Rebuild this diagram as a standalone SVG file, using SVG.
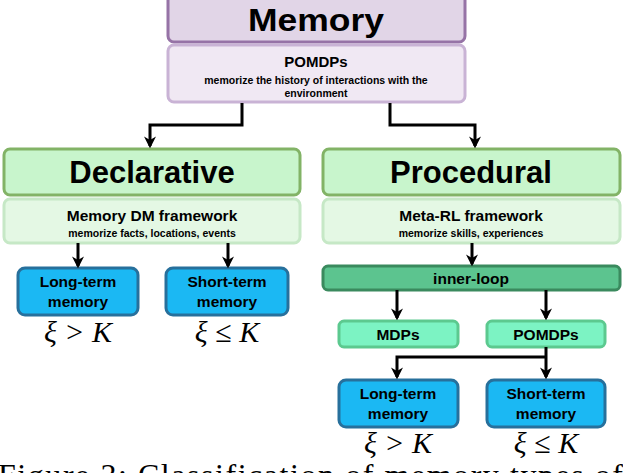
<svg xmlns="http://www.w3.org/2000/svg" width="623" height="473" viewBox="0 0 623 473">
<defs>
<marker id="ah" viewBox="0 0 10 10" refX="8" refY="5" markerWidth="4" markerHeight="4" orient="auto"><path d="M0,0 L10,5 L0,10 L3,5 z" fill="#000"/></marker>
<style>
text{font-family:"Liberation Sans",Arial,sans-serif;font-weight:bold;text-anchor:middle;fill:#000}
.c{fill:none;stroke:#000;stroke-width:3;marker-end:url(#ah)}
.blue{fill:#1bb8f3;stroke:#27709c;stroke-width:3}
.math{font-family:"Liberation Serif","DejaVu Serif",serif;font-style:italic;font-weight:normal;font-size:30px}
.cap{font-family:"Liberation Serif",serif;font-weight:normal;text-anchor:start;font-size:32px}
</style>
</defs>
<rect width="623" height="473" fill="#fff"/>
<g id="memory"><rect x="168" y="-6" width="297" height="48" rx="6" fill="#e1d5e7" stroke="#9673a6" stroke-width="3"/><text x="316" y="31" font-size="32" textLength="136" lengthAdjust="spacingAndGlyphs">Memory</text></g>
<g id="pomdps-top"><rect x="168" y="45" width="297" height="57" rx="6" fill="#f0e8f3" stroke="#c9b3d5" stroke-width="3"/><text x="316" y="67" font-size="15">POMDPs</text><text x="316" y="84" font-size="10.5">memorize the history of interactions with the</text><text x="316" y="97" font-size="10.5">environment</text></g>
<g id="declarative"><rect x="4" y="149" width="296" height="46" rx="6" fill="#c8f5cc" stroke="#82b366" stroke-width="3"/><text x="152" y="183" font-size="31">Declarative</text></g>
<g id="declarative-sub"><rect x="4" y="199" width="296" height="44" rx="6" fill="#e4f8e4" stroke="#c6e8c6" stroke-width="3"/><text x="152" y="221" font-size="15.5">Memory DM framework</text><text x="152" y="237" font-size="10.5">memorize facts, locations, events</text></g>
<g id="procedural"><rect x="323" y="149" width="297" height="46" rx="6" fill="#c8f5cc" stroke="#82b366" stroke-width="3"/><text x="471" y="183" font-size="31">Procedural</text></g>
<g id="procedural-sub"><rect x="323" y="199" width="297" height="44" rx="6" fill="#e4f8e4" stroke="#c6e8c6" stroke-width="3"/><text x="471" y="221" font-size="15.5">Meta-RL framework</text><text x="471" y="237" font-size="10.5">memorize skills, experiences</text></g>
<g id="lt-left"><rect class="blue" x="18" y="268" width="120" height="47" rx="7"/><text x="78" y="287" font-size="15.5">Long-term</text><text x="78" y="307" font-size="15.5">memory</text></g>
<g id="st-left"><rect class="blue" x="166" y="268" width="122" height="47" rx="7"/><text x="227" y="287" font-size="15.5">Short-term</text><text x="227" y="307" font-size="15.5">memory</text></g>
<text class="math" x="78" y="342">ξ &gt; K</text>
<text class="math" x="227" y="342">ξ ≤ K</text>
<g id="inner-loop"><rect x="323" y="266" width="297" height="24" rx="5" fill="#5cc48f" stroke="#3a8a5e" stroke-width="3"/><text x="471" y="284" font-size="15.5">inner-loop</text></g>
<g id="mdps"><rect x="339" y="321" width="119" height="26" rx="5" fill="#7cf3c3" stroke="#5cc98f" stroke-width="3"/><text x="398" y="340" font-size="15.5">MDPs</text></g>
<g id="pomdps"><rect x="487" y="321" width="118" height="26" rx="5" fill="#7cf3c3" stroke="#5cc98f" stroke-width="3"/><text x="546" y="340" font-size="15.5">POMDPs</text></g>
<g id="lt-right"><rect class="blue" x="339" y="380" width="119" height="47" rx="7"/><text x="398" y="399" font-size="15.5">Long-term</text><text x="398" y="419" font-size="15.5">memory</text></g>
<g id="st-right"><rect class="blue" x="487" y="380" width="118" height="47" rx="7"/><text x="546" y="399" font-size="15.5">Short-term</text><text x="546" y="419" font-size="15.5">memory</text></g>
<text class="math" x="398" y="453">ξ &gt; K</text>
<text class="math" x="546" y="453">ξ ≤ K</text>
<g id="connectors">
<path class="c" d="M242,103 V125 H150 V146"/>
<path class="c" d="M390,103 V125 H475 V146"/>
<path class="c" d="M78,243 V266"/>
<path class="c" d="M228,243 V266"/>
<path class="c" d="M472,243 V264"/>
<path class="c" d="M397,290 V318"/>
<path class="c" d="M546,290 V318"/>
<path class="c" d="M546,347 V377"/>
<path class="c" d="M546,357 H397 V377"/>
</g>
<text class="cap" x="-2" y="486" textLength="625" lengthAdjust="spacing">Figure 3: Classification of memory types of</text>
</svg>
